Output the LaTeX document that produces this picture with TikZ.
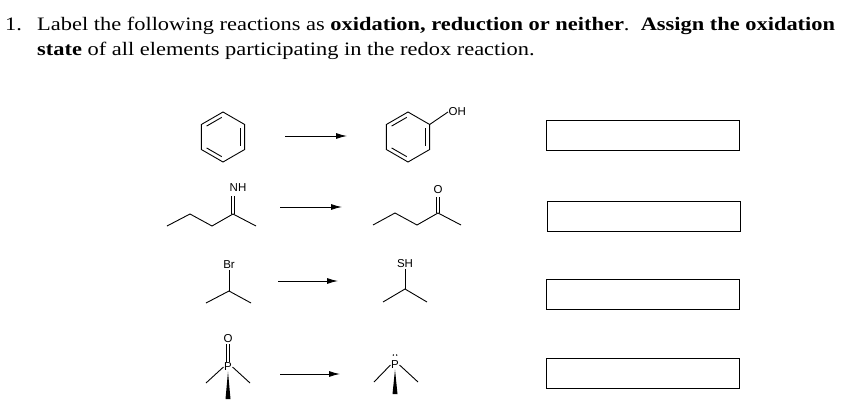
\documentclass[tikz,border=0pt]{standalone}
\usepackage{fontspec}
\setmainfont{Liberation Serif}
\newfontfamily\chem{Liberation Sans}
\usetikzlibrary{calc,arrows.meta}
\begin{document}
\begin{tikzpicture}[x=1pt,y=-1pt,
  bond/.style={line width=0.9pt},
  rx/.style={line width=0.9pt,-{Latex[length=11pt,width=6pt]}},
  atom/.style={font=\chem\fontsize{11.5}{11.5}\selectfont,inner sep=0.5pt},
  hdr/.style={anchor=base west,font=\fontsize{19}{22}\selectfont,inner sep=0},
  ansbox/.style={draw,line width=0.7pt,minimum width=193pt,minimum height=30pt,anchor=north west,inner sep=0pt}]
\useasboundingbox (0,0) rectangle (844,407);
\node[hdr] (num) at (5,30) {\scalebox{1.18}[1]{1.}};
\node[hdr] (l1) at (37,30) {\scalebox{1.18}[1]{Label the following reactions as \textbf{oxidation, reduction or neither}.\ \ \textbf{Assign the oxidation}}};
\node[hdr] (l2) at (37,55) {\scalebox{1.18}[1]{\textbf{state} of all elements participating in the redox reaction.}};
% benzene
\foreach \i in {0,...,5}{\coordinate (b\i) at ($(223,137)+(90+60*\i:25 and -25)$);}
\draw[bond] (b0)--(b1)--(b2)--(b3)--(b4)--(b5)--cycle;
\foreach \a/\b in {0/1,2/3,4/5}{\draw[bond] ($(b\a)!0.15!(b\b)!4pt!90:(b\b)$) -- ($(b\b)!0.15!(b\a)!4pt!-90:(b\a)$);}
\coordinate (a1s) at (285,136); \coordinate (a1e) at (347,136);
\draw[rx] (a1s)--(a1e);
% phenol
\foreach \i in {0,...,5}{\coordinate (p\i) at ($(408,137)+(90+60*\i:25 and -25)$);}
\draw[bond] (p0)--(p1)--(p2)--(p3)--(p4)--(p5)--cycle;
\foreach \a/\b in {0/1,2/3,4/5}{\draw[bond] ($(p\a)!0.15!(p\b)!4pt!90:(p\b)$) -- ($(p\b)!0.15!(p\a)!4pt!-90:(p\a)$);}
\node[atom,anchor=west] (oh) at (448,112) {OH};
\draw[bond] (p5) -- (oh.west);
% imine
\coordinate (i1) at (167,226); \coordinate (i2) at (190,214); \coordinate (i3) at (212,226); \coordinate (i4) at (233,214); \coordinate (i5) at (256,226);
\draw[bond] (i1)--(i2)--(i3)--(i4)--(i5);
\node[atom] (nh) at (238,188) {NH};
\draw[bond] ($(i4)+(-1.6,0)$) -- ($(i4)+(-1.6,-18)$);
\draw[bond] ($(i4)+(1.6,0)$) -- ($(i4)+(1.6,-18)$);
\coordinate (a2s) at (280,207); \coordinate (a2e) at (342,207);
\draw[rx] (a2s)--(a2e);
% ketone
\coordinate (k1) at (373,225); \coordinate (k2) at (395,213); \coordinate (k3) at (417,225); \coordinate (k4) at (438,213); \coordinate (k5) at (461,225);
\draw[bond] (k1)--(k2)--(k3)--(k4)--(k5);
\node[atom] (ko) at (438,190) {O};
\draw[bond] ($(k4)+(-1.6,0)$) -- ($(k4)+(-1.6,-16)$);
\draw[bond] ($(k4)+(1.6,0)$) -- ($(k4)+(1.6,-16)$);
% bromide
\coordinate (bc) at (229,291);
\draw[bond] (206,303)--(bc)--(251,303);
\node[atom] (br) at (229,265) {Br};
\draw[bond] (bc)--(br.south);
\coordinate (a3s) at (278,281); \coordinate (a3e) at (338,281);
\draw[rx] (a3s)--(a3e);
% thiol
\coordinate (sc) at (405,289);
\draw[bond] (383,302)--(sc)--(427,302);
\node[atom] (sh) at (405,264) {SH};
\draw[bond] (sc)--(sh.south);
% phosphine oxide
\node[atom] (po) at (228,367) {P};
\node[atom] (oo) at (228,339) {O};
\draw[bond] ($(po.north)+(-1.6,0)$) -- ($(oo.south)+(-1.6,0)$);
\draw[bond] ($(po.north)+(1.6,0)$) -- ($(oo.south)+(1.6,0)$);
\draw[bond] (206,383)--(po.west); \draw[bond] (250,383)--(po.east);
\fill (po.south) -- (225.5,399) -- (230.5,399) -- cycle;
\coordinate (a4s) at (280,374); \coordinate (a4e) at (340,374);
\draw[rx] (a4s)--(a4e);
% phosphine
\node[atom] (pp) at (395,365) {P};
\fill (393.3,355) circle (0.8pt) (396.7,355) circle (0.8pt);
\draw[bond] (374,382)--(pp.west); \draw[bond] (418,382)--(pp.east);
\fill (pp.south) -- (392.5,394) -- (397.5,394) -- cycle;
% answer boxes
\node[ansbox] (bx1) at (546,120) {};
\node[ansbox] (bx2) at (547,201) {};
\node[ansbox] (bx3) at (546,279) {};
\node[ansbox] (bx4) at (546,358) {};
\end{tikzpicture}
\end{document}
